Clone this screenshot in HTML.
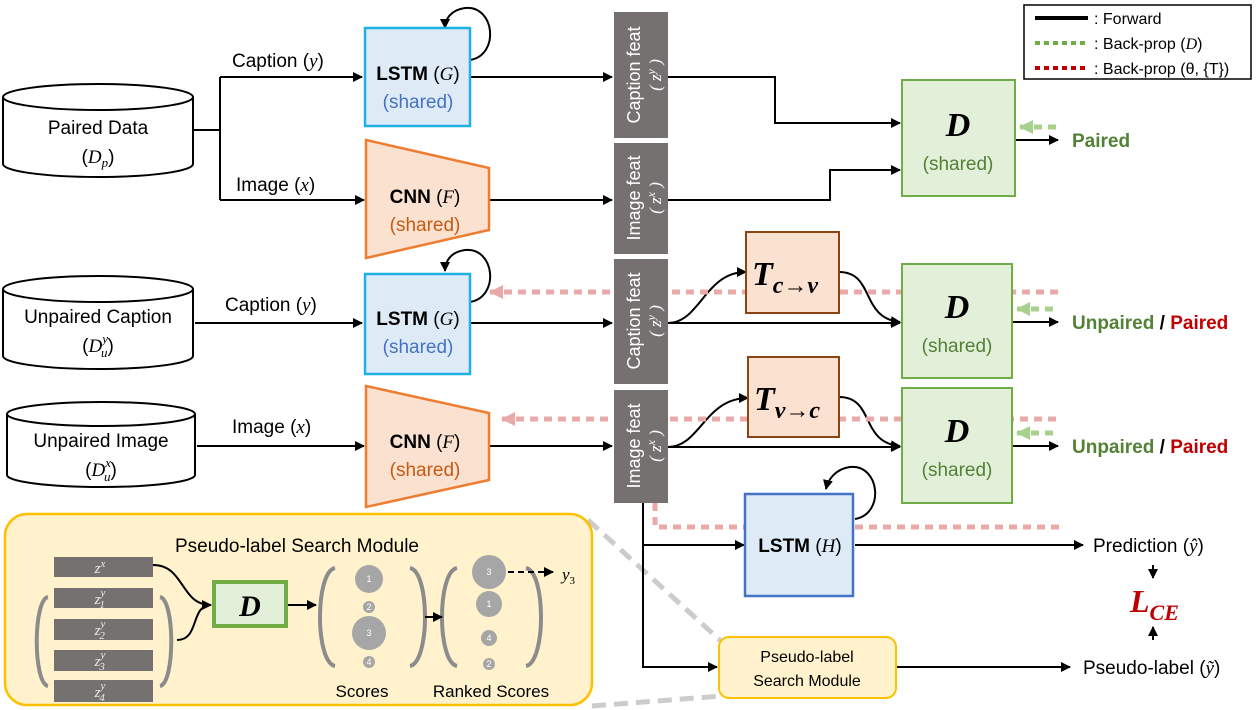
<!DOCTYPE html>
<html><head><meta charset="utf-8"><style>
body{margin:0;background:#fff}
svg{display:block;font-family:"Liberation Sans",sans-serif}
.m{font-family:"Liberation Serif",serif;font-style:italic}
</style></head><body>
<svg width="1259" height="710" viewBox="0 0 1259 710" xmlns="http://www.w3.org/2000/svg">
<defs>
<marker id="a" markerWidth="10" markerHeight="10" refX="9" refY="5" orient="auto" markerUnits="userSpaceOnUse"><path d="M0,0 L10,5 L0,10 z" fill="#000"/></marker>
<marker id="ag" markerWidth="14" markerHeight="14" refX="1" refY="7" orient="auto" markerUnits="userSpaceOnUse"><path d="M14,0 L0,7 L14,14 z" fill="#a9d18e"/></marker>
<marker id="ap" markerWidth="14" markerHeight="14" refX="1" refY="7" orient="auto" markerUnits="userSpaceOnUse"><path d="M14,0 L0,7 L14,14 z" fill="#eaa9a9"/></marker>
</defs>

<line x1="588" y1="520" x2="722" y2="642" stroke="#ccc" stroke-width="5" stroke-dasharray="14,8"/>
<line x1="592" y1="706" x2="722" y2="696" stroke="#ccc" stroke-width="5" stroke-dasharray="14,8"/>

<g fill="#fff" stroke="#000" stroke-width="2">
<path d="M3,97 L3,164 A95,13 0 0 0 193,164 L193,97"/><ellipse cx="98" cy="97" rx="95" ry="13"/>
<path d="M3,289 L3,356 A95,13 0 0 0 193,356 L193,289"/><ellipse cx="98" cy="289" rx="95" ry="13"/>
<path d="M7,414 L7,475 A94,12 0 0 0 195,475 L195,414"/><ellipse cx="101" cy="414" rx="94" ry="12"/>
</g>
<g font-size="19" text-anchor="middle">
<text x="98" y="134">Paired  Data</text><text x="98" y="163">(<tspan class="m">D</tspan><tspan class="m" font-size="13" dy="4">p</tspan><tspan dy="-4">)</tspan></text>
<text x="98" y="323">Unpaired Caption</text><text x="98" y="352">(<tspan class="m">D</tspan><tspan class="m" font-size="13" dy="-9">y</tspan><tspan class="m" font-size="13" dx="-7" dy="14">u</tspan><tspan dy="-5">)</tspan></text>
<text x="101" y="447">Unpaired Image</text><text x="101" y="476">(<tspan class="m">D</tspan><tspan class="m" font-size="13" dy="-9">x</tspan><tspan class="m" font-size="13" dx="-7" dy="14">u</tspan><tspan dy="-5">)</tspan></text>
</g>

<g stroke="#000" stroke-width="2" fill="none">
<path d="M193,130 H220 M220,77 V200"/>
<path d="M220,77 H362" marker-end="url(#a)"/>
<path d="M220,200 H364" marker-end="url(#a)"/>
<path d="M470,77 H612" marker-end="url(#a)"/>
<path d="M489,200 H612" marker-end="url(#a)"/>
<path d="M668,77 H775 V123 H900" marker-end="url(#a)"/>
<path d="M668,200 H830 V170 H900" marker-end="url(#a)"/>
<path d="M1015,140 H1058" marker-end="url(#a)"/>
<path d="M195,323 H362" marker-end="url(#a)"/>
<path d="M470,323 H612" marker-end="url(#a)"/>
<path d="M668,323 H900" marker-end="url(#a)"/>
<path d="M668,323 C700,323 705,272 746,272" marker-end="url(#a)"/>
<path d="M839,272 C875,272 860,318 900,322" marker-end="url(#a)"/>
<path d="M1012,322 H1058" marker-end="url(#a)"/>
<path d="M197,446 H364" marker-end="url(#a)"/>
<path d="M489,446 H612" marker-end="url(#a)"/>
<path d="M668,447 H900" marker-end="url(#a)"/>
<path d="M668,447 C700,447 705,398 748,398" marker-end="url(#a)"/>
<path d="M839,397 C875,397 860,443 900,446" marker-end="url(#a)"/>
<path d="M1012,446 H1058" marker-end="url(#a)"/>
<path d="M643,503 V667 H717" marker-end="url(#a)"/>
<path d="M643,545 H744" marker-end="url(#a)"/>
<path d="M855,545 H1083" marker-end="url(#a)"/>
<path d="M896,667 H1070" marker-end="url(#a)"/>
<path d="M1153,565 V578" marker-end="url(#a)"/>
<path d="M1153,640 V627" marker-end="url(#a)"/>
<path d="M470,60 C500,55 495,5 465,8 C450,10 445,20 445,28" marker-end="url(#a)"/>
<path d="M470,302 C500,297 495,247 465,250 C450,252 445,262 445,271" marker-end="url(#a)"/>
<path d="M855,519 C885,514 880,464 850,467 C835,469 828,480 826,489" marker-end="url(#a)"/>
</g>

<g stroke="#eaa9a9" stroke-width="5" stroke-dasharray="8,6" fill="none">
<path d="M490,292 H1058" marker-start="url(#ap)"/>
<path d="M502,419 H1058" marker-start="url(#ap)"/>
<path d="M655,503 V527 H1060"/>
</g>
<g stroke="#a9d18e" stroke-width="5" stroke-dasharray="8,6" fill="none">
<path d="M1020,127 H1058" marker-start="url(#ag)"/>
<path d="M1017,309 H1058" marker-start="url(#ag)"/>
<path d="M1017,433 H1058" marker-start="url(#ag)"/>
</g>

<g fill="#deebf7" stroke="#1fb1e6" stroke-width="2.5">
<rect x="365" y="28" width="105" height="98"/><rect x="365" y="274" width="105" height="100"/>
</g>
<rect x="745" y="494" width="108" height="102" fill="#deebf7" stroke="#4472c4" stroke-width="2.5"/>
<g fill="#fbe1d0" stroke="#ed7d31" stroke-width="2.5">
<path d="M366,140 L489,168 L489,230 L366,258 Z"/><path d="M366,386 L489,413 L489,480 L366,507 Z"/>
</g>
<g font-size="19" text-anchor="middle">
<text x="418" y="80"><tspan font-weight="bold">LSTM</tspan> (<tspan class="m">G</tspan>)</text><text x="418" y="108" fill="#4472c4">(shared)</text>
<text x="418" y="325"><tspan font-weight="bold">LSTM</tspan> (<tspan class="m">G</tspan>)</text><text x="418" y="353" fill="#4472c4">(shared)</text>
<text x="425" y="203"><tspan font-weight="bold">CNN</tspan> (<tspan class="m">F</tspan>)</text><text x="425" y="231" fill="#c55a11">(shared)</text>
<text x="425" y="448"><tspan font-weight="bold">CNN</tspan> (<tspan class="m">F</tspan>)</text><text x="425" y="476" fill="#c55a11">(shared)</text>
<text x="800" y="552"><tspan font-weight="bold">LSTM</tspan> (<tspan class="m">H</tspan>)</text>
</g>
<g font-size="19">
<text x="232" y="67">Caption (<tspan class="m">y</tspan>)</text>
<text x="236" y="191">Image (<tspan class="m">x</tspan>)</text>
<text x="225" y="311">Caption (<tspan class="m">y</tspan>)</text>
<text x="232" y="433">Image (<tspan class="m">x</tspan>)</text>
</g>

<g fill="#767171">
<rect x="614" y="12" width="54" height="126"/><rect x="614" y="143" width="54" height="111"/>
<rect x="614" y="259" width="54" height="125"/><rect x="614" y="390" width="54" height="113"/>
</g>
<g fill="#fff" font-size="18" text-anchor="middle">
<text transform="translate(640,75) rotate(-90)">Caption feat</text><text class="m" font-size="17" transform="translate(661,75) rotate(-90)">( z<tspan font-size="12" dy="-6">y</tspan><tspan dy="6"> )</tspan></text>
<text transform="translate(640,198) rotate(-90)">Image feat</text><text class="m" font-size="17" transform="translate(661,198) rotate(-90)">( z<tspan font-size="12" dy="-6">x</tspan><tspan dy="6"> )</tspan></text>
<text transform="translate(640,321) rotate(-90)">Caption feat</text><text class="m" font-size="17" transform="translate(661,321) rotate(-90)">( z<tspan font-size="12" dy="-6">y</tspan><tspan dy="6"> )</tspan></text>
<text transform="translate(640,446) rotate(-90)">Image feat</text><text class="m" font-size="17" transform="translate(661,446) rotate(-90)">( z<tspan font-size="12" dy="-6">x</tspan><tspan dy="6"> )</tspan></text>
</g>

<g fill="#fbe1d0" stroke="#8b4513" stroke-width="2">
<rect x="746" y="232" width="93" height="81"/><rect x="748" y="357" width="91" height="80"/>
</g>
<g font-family="Liberation Serif,serif" font-style="italic" font-weight="bold">
<text x="752" y="285" font-size="34">T<tspan font-size="24" dy="8">c→v</tspan></text>
<text x="754" y="410" font-size="34">T<tspan font-size="24" dy="8">v→c</tspan></text>
</g>

<g fill="#e2efd9" stroke="#70ad47" stroke-width="2">
<rect x="902" y="80" width="113" height="116"/><rect x="902" y="264" width="110" height="114"/><rect x="902" y="388" width="110" height="115"/>
</g>
<g text-anchor="middle">
<text x="958" y="136" font-size="34" font-family="Liberation Serif,serif" font-style="italic" font-weight="bold">D</text><text x="958" y="170" font-size="19" fill="#538135">(shared)</text>
<text x="957" y="318" font-size="34" font-family="Liberation Serif,serif" font-style="italic" font-weight="bold">D</text><text x="957" y="352" font-size="19" fill="#538135">(shared)</text>
<text x="957" y="442" font-size="34" font-family="Liberation Serif,serif" font-style="italic" font-weight="bold">D</text><text x="957" y="476" font-size="19" fill="#538135">(shared)</text>
</g>
<g font-size="19" font-weight="bold">
<text x="1072" y="147" fill="#538135">Paired</text>
<text x="1072" y="329"><tspan fill="#538135">Unpaired</tspan> / <tspan fill="#c00000">Paired</tspan></text>
<text x="1072" y="453"><tspan fill="#538135">Unpaired</tspan> / <tspan fill="#c00000">Paired</tspan></text>
</g>

<rect x="1024" y="5" width="227" height="74" fill="#fff" stroke="#000" stroke-width="1.5"/>
<line x1="1035" y1="18" x2="1088" y2="18" stroke="#000" stroke-width="4"/>
<line x1="1035" y1="43" x2="1088" y2="43" stroke="#70ad47" stroke-width="4" stroke-dasharray="5,4"/>
<line x1="1035" y1="68" x2="1088" y2="68" stroke="#c00000" stroke-width="4" stroke-dasharray="5,4"/>
<g font-size="16"><text x="1094" y="24">: Forward</text><text x="1094" y="49">: Back-prop (<tspan class="m">D</tspan>)</text><text x="1094" y="74">: Back-prop (θ, {T})</text></g>

<g font-size="19"><text x="1093" y="552">Prediction (<tspan class="m">ŷ</tspan>)</text><text x="1083" y="674">Pseudo-label (<tspan class="m">ỹ</tspan>)</text></g>
<text x="1130" y="612" font-family="Liberation Serif,serif" font-style="italic" font-weight="bold" font-size="32" fill="#c00000">L<tspan font-size="22" dy="8">CE</tspan></text>

<rect x="719" y="637" width="177" height="61" rx="10" fill="#fff2cc" stroke="#ffc000" stroke-width="2"/>
<g font-size="16" text-anchor="middle"><text x="807" y="662">Pseudo-label</text><text x="807" y="686">Search Module</text></g>

<rect x="5" y="514" width="587" height="191" rx="22" fill="#fff2cc" stroke="#ffc000" stroke-width="2.5"/>
<text x="175" y="552" font-size="19">Pseudo-label  Search Module</text>
<g fill="#767171"><rect x="54" y="557" width="99" height="20"/><rect x="54" y="588" width="99" height="20"/><rect x="54" y="619" width="99" height="21"/><rect x="54" y="650" width="99" height="21"/><rect x="54" y="680" width="99" height="22"/></g>
<g fill="#fff" font-size="15" font-family="Liberation Serif,serif" font-style="italic" text-anchor="middle" opacity="0.85">
<text x="100" y="573">z<tspan font-size="11" dy="-6">x</tspan></text>
<text x="100" y="604">z<tspan font-size="11" dy="-8">y</tspan><tspan font-size="11" dx="-6" dy="12">1</tspan></text>
<text x="100" y="635">z<tspan font-size="11" dy="-8">y</tspan><tspan font-size="11" dx="-6" dy="12">2</tspan></text>
<text x="100" y="666">z<tspan font-size="11" dy="-8">y</tspan><tspan font-size="11" dx="-6" dy="12">3</tspan></text>
<text x="100" y="697">z<tspan font-size="11" dy="-8">y</tspan><tspan font-size="11" dx="-6" dy="12">4</tspan></text>
</g>
<g fill="none" stroke="#8c8c8c" stroke-width="4">
<path d="M48,597 C33,600 33,683 48,686"/><path d="M160,597 C175,600 175,683 160,686"/>
<path d="M335,568 C315,572 315,662 335,666"/><path d="M410,568 C430,572 430,662 410,666"/>
<path d="M457,568 C437,572 437,662 457,666"/><path d="M526,568 C546,572 546,662 526,666"/>
</g>
<g stroke="#000" stroke-width="2" fill="none">
<path d="M153,565 C185,565 180,605 211,605" marker-end="url(#a)"/>
<path d="M177,640 C200,640 190,605 211,605"/>
<path d="M288,605 H316" marker-end="url(#a)"/>
<path d="M425,617 H442" marker-end="url(#a)"/>
<path d="M508,572 H553" stroke-dasharray="6,4" marker-end="url(#a)"/>
</g>
<rect x="214" y="582" width="72" height="44" fill="#e2efd9" stroke="#70ad47" stroke-width="4"/>
<text x="250" y="616" text-anchor="middle" font-size="30" font-family="Liberation Serif,serif" font-style="italic" font-weight="bold">D</text>
<text x="562" y="580" font-size="17" class="m">y<tspan font-size="11" dy="4" font-style="normal">3</tspan></text>
<g fill="#a6a6a6"><circle cx="369" cy="579" r="14"/><circle cx="369" cy="607" r="6"/><circle cx="369" cy="633" r="17"/><circle cx="369" cy="662" r="6"/>
<circle cx="489" cy="572" r="17"/><circle cx="489" cy="604" r="13"/><circle cx="489" cy="638" r="8"/><circle cx="489" cy="664" r="6"/></g>
<g fill="#fff" font-size="9" text-anchor="middle"><text x="369" y="582">1</text><text x="369" y="610">2</text><text x="369" y="636">3</text><text x="369" y="665">4</text>
<text x="489" y="575">3</text><text x="489" y="607">1</text><text x="489" y="641">4</text><text x="489" y="667">2</text></g>
<g font-size="17" text-anchor="middle"><text x="362" y="697">Scores</text><text x="491" y="697">Ranked Scores</text></g>
</svg>
</body></html>
